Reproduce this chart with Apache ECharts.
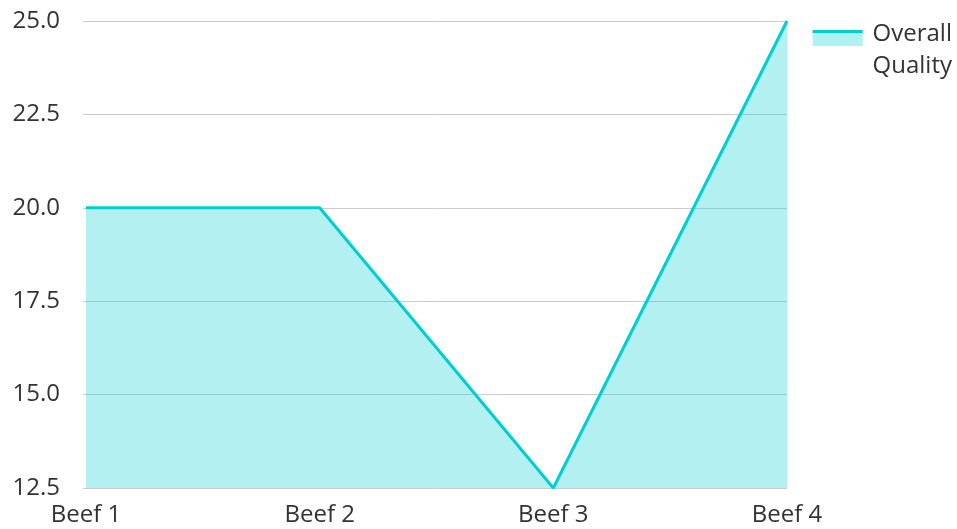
<!DOCTYPE html>
<html><head><meta charset="utf-8">
<script src="https://cdn.jsdelivr.net/npm/echarts@6/dist/echarts.min.js"></script>
<style>html,body{margin:0;padding:0;background:#fff}#c{width:957px;height:529px}</style>
</head><body><div id="c"></div>
<script>
const categories = ['Beef 1', 'Beef 2', 'Beef 3', 'Beef 4'];
const overallQuality = [20, 20, 12.5, 25];
const seriesName = 'Overall\nQuality';
const yMin = 12.5, yMax = 25, yStep = 2.5;

const lineColor = '#00ced1';
const font = '"Open Sans", "Noto Sans", sans-serif';
const legendText = {fontFamily: font, fontSize: 24, color: '#333', lineHeight: 32, padding: [0, 0, 0, 5]};
const chart = echarts.init(document.getElementById('c'), null, {renderer: 'canvas'});
chart.setOption({
  animation: false,
  grid: {left: 86, right: 170, top: 21, bottom: 41, containLabel: false},
  legend: [{
    data: [seriesName], right: 0, top: 13, orient: 'vertical',
    icon: 'path://M0,0H50V16H0ZM0,39.99H50V40H0Z', itemWidth: 50, itemHeight: 40,
    itemStyle: {color: 'rgba(0,206,209,0.3)', borderWidth: 0},
    textStyle: legendText,
    selectedMode: false
  }, {
    data: [seriesName], right: 0, top: 13, orient: 'vertical',
    icon: 'path://M0,0H50V3H0ZM0,39.99H50V40H0Z', itemWidth: 50, itemHeight: 40,
    itemStyle: {color: lineColor, borderWidth: 0},
    textStyle: Object.assign({}, legendText, {color: 'rgba(0,0,0,0)'}),
    selectedMode: false, z: 5
  }],
  xAxis: {
    type: 'category', data: categories, boundaryGap: false,
    axisLine: {show: false}, axisTick: {show: false},
    axisLabel: {fontFamily: font, fontSize: 24, color: '#333', margin: 15}
  },
  yAxis: {
    type: 'value', min: yMin, max: yMax, interval: yStep,
    axisLine: {show: false},
    axisTick: {show: true, length: 3, lineStyle: {color: '#ccc'}},
    splitLine: {lineStyle: {color: '#ccc', width: 1}},
    axisLabel: {fontFamily: font, fontSize: 24, color: '#333', margin: 26,
      formatter: v => v.toFixed(1)}
  },
  series: [{
    name: seriesName, type: 'line', data: overallQuality,
    showSymbol: false, symbol: 'none',
    lineStyle: {color: lineColor, width: 3},
    itemStyle: {color: lineColor},
    areaStyle: {color: lineColor, opacity: 0.3}
  }]
});
</script></body></html>
